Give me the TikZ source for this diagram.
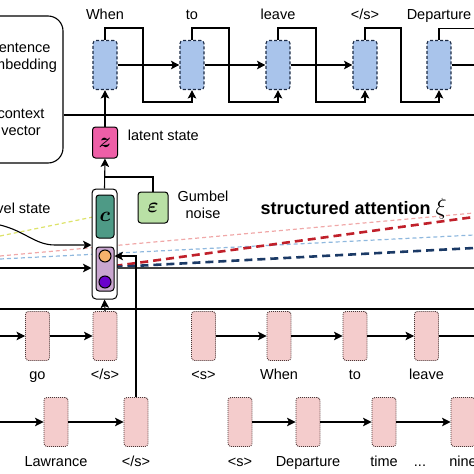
\documentclass[tikz,border=0pt]{standalone}
\usepackage{amsmath,amssymb}
\usepackage{fontspec}
\setmainfont{Liberation Sans}
\usepackage{tikz}
\usetikzlibrary{shapes,arrows,arrows.meta,positioning,backgrounds}

\definecolor{decblue}{HTML}{A9C4EB}
\definecolor{decline}{HTML}{1C2B45}
\definecolor{encpink}{HTML}{F4CCCC}
\definecolor{encline}{HTML}{4D3535}
\definecolor{latpink}{HTML}{EE5FA7}
\definecolor{ctxteal}{HTML}{4E9A86}
\definecolor{noisegreen}{HTML}{B9E0A5}
\definecolor{mixpurple}{HTML}{C9A6CF}
\definecolor{dotorange}{HTML}{F6B26B}
\definecolor{dotviolet}{HTML}{6A00CC}
\definecolor{attred}{HTML}{C0202A}
\definecolor{attnavy}{HTML}{1B3A66}
\definecolor{attpink}{HTML}{F0A8A8}
\definecolor{attblue}{HTML}{8FB8DE}
\definecolor{attyellow}{HTML}{DDE36A}

\begin{document}
\begin{tikzpicture}[
    x=1pt, y=-1pt,
    line width=1.1pt,
    font=\fontsize{14.5}{17}\selectfont,
    dec/.style={rectangle, draw=decline, dash pattern=on 3pt off 2pt, fill=decblue, rounded corners=3pt, minimum width=24pt, minimum height=49pt, inner sep=0pt},
    enc/.style={rectangle, draw=encline, dash pattern=on 1pt off 1pt, line width=0.9pt, fill=encpink, rounded corners=3pt, minimum width=24pt, minimum height=49pt, inner sep=0pt},
    unit/.style={rectangle, draw, rounded corners=3pt, line width=1pt, inner sep=0pt, font=\fontsize{20}{20}\selectfont},
    dot/.style={circle, draw, line width=1pt, minimum size=12pt, inner sep=0pt},
    word/.style={anchor=base, inner sep=0pt},
    arrow/.style={-{Stealth[length=8.5pt,width=8.5pt,inset=2pt]}},
    thinatt/.style={dash pattern=on 4pt off 3pt, line width=1.2pt},
    thickatt/.style={dash pattern=on 8pt off 5pt, line width=2.6pt}
]
    \useasboundingbox (0,0) rectangle (474,474);
    \clip (0,0) rectangle (474,474);

    % Sentence embedding and context vector
    \node[draw, rounded corners=15pt, minimum width=100pt, minimum height=147pt] (sent) at (13,89.5) {};
    \node[align=center] (embtxt) at (21,58) {sentence\\embedding};
    \node[align=center] (ctxtxt) at (21,122) {context\\vector};

    % Decoder
    \node[dec] (dWhen) at (105,65) {};
    \node[dec] (dTo) at (192,65) {};
    \node[dec] (dLeave) at (278,65) {};
    \node[dec] (dEos) at (365,65) {};
    \node[dec] (dDepart) at (439,65) {};
    \node[word] (wWhen) at (105,19.5) {When};
    \node[word] (wTo) at (192,19.5) {to};
    \node[word] (wLeave) at (278,19.5) {leave};
    \node[word] (wEos) at (365,19.5) {</s>};
    \node[word] (wDepart) at (439,19.5) {Departure};

    \coordinate (topend) at (474,28.5);
    \coordinate (hidend) at (474,65);
    \coordinate (ctxend) at (474,115);

    \draw[arrow] (dWhen) -- (dTo);
    \draw[arrow] (dTo) -- (dLeave);
    \draw[arrow] (dLeave) -- (dEos);
    \draw[arrow] (dWhen.north) -- ++(0,-12) -- ++(38,0) -- ++(0,74) -| (dTo.south);
    \draw[arrow] (dTo.north) -- ++(0,-12) -- ++(37,0) -- ++(0,74) -| (dLeave.south);
    \draw[arrow] (dLeave.north) -- ++(0,-12) -- ++(38,0) -- ++(0,74) -| (dEos.south);
    \draw[arrow] (dEos.north) -- ++(0,-12) -- ++(36,0) -- ++(0,74) -| (dDepart.south);
    \draw (dDepart.north) |- (topend);
    \draw (dDepart.east) -- (hidend);
    \draw (sent.east |- ctxend) -- (ctxend);

    % Latent state
    \node[unit, fill=latpink, minimum width=25pt, minimum height=31pt] (z) at (105,142.5) {$\boldsymbol{z}$};
    \node[anchor=west] (zlab) at (124,135) {latent state};
    \draw[arrow] (z) -- (dWhen.south);

    % Context cell
    \node[unit, fill=white, rounded corners=4pt, minimum width=25pt, minimum height=110pt] (mix) at (104.5,244) {};
    \node[unit, fill=ctxteal, minimum width=18pt, minimum height=43pt] (cvec) at (105,216.5) {$\boldsymbol{c}$};
    \node[unit, fill=mixpurple, minimum width=18pt, minimum height=44pt] (att) at (105,269) {};
    \node[dot, fill=dotorange] (dotA) at (105,256) {};
    \node[dot, fill=dotviolet] (dotB) at (105,282) {};

    \node[unit, fill=noisegreen, minimum width=30pt, minimum height=31pt] (eps) at (153,207.5) {$\boldsymbol{\varepsilon}$};
    \node[align=center] (epslab) at (203,205) {Gumbel\\noise};
    \coordinate (join) at (105,177);
    \draw[arrow] (mix.north) -- (z.south);
    \draw (eps.north) |- (join);

    % Attention lines
    \coordinate (ylw) at (0,236);
    \coordinate (pkL) at (0,256);
    \coordinate (pkR) at (474,213);
    \coordinate (blL) at (0,259);
    \coordinate (blR) at (474,235);
    \coordinate (rdR) at (474,217);
    \coordinate (nvR) at (474,248);
    \begin{scope}[on background layer]
        \clip (0,0) rectangle (474,474);
        \draw[thinatt, attyellow] (ylw) -- (cvec.west);
        \draw[thinatt, attpink] (pkL) -- (pkR);
        \draw[thinatt, attblue] (blL) -- (blR);
        \draw[thickatt, attred] (att.east |- dotB) ++(0,-16) -- (rdR);
        \draw[thickatt, attnavy] (att.east |- dotB) ++(0,-15) -- (nvR);
    \end{scope}
    \node[anchor=base west, inner sep=0pt, font=\fontsize{18}{20}\selectfont\bfseries] (attlab) at (260,214) {structured attention \scalebox{1.35}{$\xi$}};

    % Inputs to the cell
    \node[anchor=base east, inner sep=0pt] (lvlab) at (51,213) {level state};
    \coordinate (hiL) at (0,225);
    \coordinate (lvl) at (55,245);
    \coordinate (solL) at (0,268);
    \coordinate (solR) at (474,268);
    \draw[arrow] (hiL) .. controls (25,231) and (35,245) .. (lvl) -- (mix.west |- lvl);
    \draw[arrow] (solL) -- (mix.west |- solL);
    \draw[black!75] (mix.east |- solR) -- (solR);

    % Encoder, first row
    \node[enc] (go) at (37.5,336) {};
    \node[enc] (eosA) at (105,336) {};
    \node[enc] (bosA) at (203.5,336) {};
    \node[enc] (when) at (279,336) {};
    \node[enc] (to) at (355,336) {};
    \node[enc] (leave) at (426.5,336) {};
    \node[word] (lgo) at (37.5,379.5) {go};
    \node[word] (leosA) at (105,379.5) {</s>};
    \node[word] (lbosA) at (203.5,379.5) {<s>};
    \node[word] (lwhen) at (279,379.5) {When};
    \node[word] (lto) at (355,379.5) {to};
    \node[word] (lleave) at (426.5,379.5) {leave};

    % Encoder, second row
    \node[enc] (lawr) at (56,422) {};
    \node[enc] (eosB) at (136,422) {};
    \node[enc] (bosB) at (240,422) {};
    \node[enc] (depart) at (308,422) {};
    \node[enc] (time) at (384,422) {};
    \node[enc] (nine) at (463,422) {};
    \node[word] (llawr) at (56,466) {Lawrance};
    \node[word] (leosB) at (136,466) {</s>};
    \node[word] (lbosB) at (240,466) {<s>};
    \node[word] (ldepart) at (308,466) {Departure};
    \node[word] (ltime) at (384,466) {time};
    \node[word] (ldots) at (420,466) {...};
    \node[word] (lnine) at (463,466) {nine};

    \coordinate (sepL) at (0,309);
    \coordinate (sepR) at (474,309);
    \coordinate (r1L) at (0,336);
    \coordinate (r1R) at (474,336);
    \coordinate (r2L) at (0,422);

    \draw (sepL) -- (sepR);
    \draw[arrow] (r1L) -- (go);
    \draw[arrow] (go) -- (eosA);
    \draw[arrow] (bosA) -- (when);
    \draw[arrow] (when) -- (to);
    \draw[arrow] (to) -- (leave);
    \draw (leave) -- (r1R);
    \draw[arrow] (r2L) -- (lawr);
    \draw[arrow] (lawr) -- (eosB);
    \draw[arrow] (bosB) -- (depart);
    \draw[arrow] (depart) -- (time);
    \draw[arrow] (time) -- (nine);

    \draw[arrow] (eosA.north) -- (mix.south);
    \draw[arrow] (eosB.north) |- (att.east |- dotA);
\end{tikzpicture}
\end{document}
